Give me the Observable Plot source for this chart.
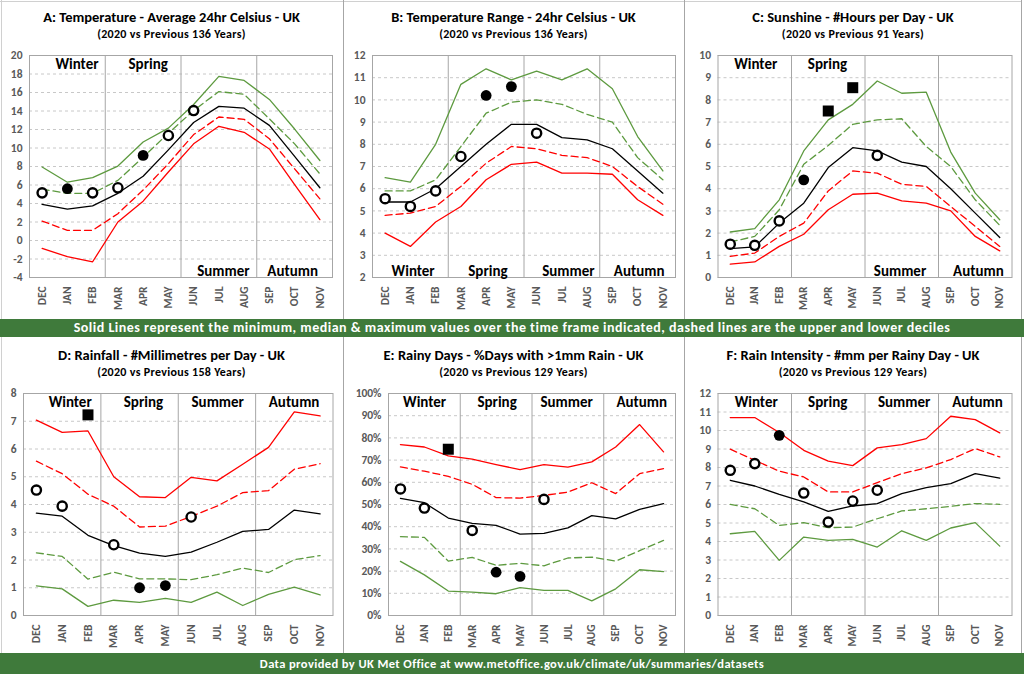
<!DOCTYPE html>
<html><head><meta charset="utf-8">
<script src="https://cdn.jsdelivr.net/npm/d3@7"></script>
<script src="https://cdn.jsdelivr.net/npm/@observablehq/plot@0.6"></script>
<style>
body{margin:0;background:#fff;font-family:Carlito,Lato,"Open Sans",sans-serif;}
#root{position:relative;width:1024px;height:674px;overflow:hidden;background:#fff;}
.panel{position:absolute;}
.title{position:absolute;left:0;right:0;text-align:center;font-weight:bold;color:#000;font-size:14.5px;line-height:18px;white-space:nowrap;}
.sub{position:absolute;left:0;right:0;text-align:center;font-weight:bold;color:#000;font-size:12px;line-height:14px;letter-spacing:0.3px;white-space:nowrap;}
.chart{position:absolute;left:0;}
.banner{position:absolute;left:0;width:1024px;background:#3f7a3b;color:#fff;font-weight:bold;text-align:center;white-space:nowrap;}
.vline{position:absolute;width:1px;background:#a6a6a6;}
.hline{position:absolute;height:1px;background:#d0d0d0;}
</style>
</head><body><div id="root"></div>
<script>
const months = ["DEC","JAN","FEB","MAR","APR","MAY","JUN","JUL","AUG","SEP","OCT","NOV"];
const seasonNames = ["Winter","Spring","Summer","Autumn"];

// A: Temperature
const tempMax = [7.95,6.3,6.8,8.05,10.65,12.15,14.7,17.75,17.3,15.25,12.05,8.65];
const tempP90 = [5.55,5.1,5.1,6.5,9.0,11.6,14.05,16.1,15.8,13.15,10.45,7.2];
const tempMed = [3.9,3.4,3.75,5.1,6.95,9.8,12.75,14.5,14.3,12.45,9.1,5.7];
const tempP10 = [2.1,1.1,1.1,2.9,5.45,8.3,11.45,13.35,13.1,11.0,7.75,4.5];
const tempMin = [-0.85,-1.75,-2.3,2.0,4.25,7.4,10.45,12.35,11.7,9.9,6.05,2.25];
const temp2020 = [5.15,5.6,5.15,5.7,9.2,11.35,14.05];
const temp2020Sym = ["o","c","o","o","c","o","o"];

// B: Temperature range
const rangeMax = [6.5,6.3,8.0,10.7,11.4,10.9,11.3,10.9,11.4,10.5,8.35,6.8];
const rangeP90 = [5.9,5.9,6.4,7.9,9.4,9.9,10.0,9.8,9.35,9.0,7.4,6.4];
const rangeMed = [5.4,5.4,6.0,7.0,8.0,8.9,8.9,8.3,8.2,7.8,6.8,5.8];
const rangeP10 = [4.8,4.9,5.2,6.1,7.15,7.9,7.8,7.5,7.4,7.0,6.1,5.3];
const rangeMin = [4.0,3.4,4.5,5.2,6.4,7.1,7.2,6.7,6.7,6.65,5.5,4.8];
const range2020 = [5.55,5.2,5.9,7.45,10.2,10.6,8.5];
const range2020Sym = ["o","o","o","o","c","c","o"];

// C: Sunshine
const sunMax = [2.05,2.2,3.5,5.7,7.1,7.8,8.85,8.3,8.35,5.65,3.8,2.6];
const sunP90 = [1.6,1.85,3.05,5.1,5.95,6.9,7.1,7.15,5.9,5.0,3.5,2.35];
const sunMed = [1.3,1.38,2.45,3.35,4.95,5.85,5.7,5.2,5.0,4.0,2.9,1.8];
const sunP10 = [0.95,1.1,1.85,2.45,3.9,4.8,4.7,4.2,4.1,3.2,2.3,1.4];
const sunMin = [0.6,0.7,1.4,1.95,3.05,3.75,3.8,3.45,3.35,3.0,1.85,1.2];
const sun2020 = [1.5,1.45,2.55,4.4,7.5,8.55,5.5];
const sun2020Sym = ["o","o","o","c","s","s","o"];

// D: Rainfall
const rainMax = [7.04,6.6,6.65,5.0,4.28,4.25,4.98,4.85,5.45,6.06,7.34,7.19];
const rainP90 = [5.56,5.11,4.37,3.94,3.19,3.22,3.57,3.94,4.43,4.5,5.27,5.47];
const rainMed = [3.69,3.58,2.89,2.52,2.25,2.13,2.28,2.64,3.03,3.1,3.8,3.66];
const rainP10 = [2.26,2.13,1.31,1.56,1.32,1.32,1.29,1.47,1.71,1.55,2.01,2.16];
const rainMin = [1.07,0.96,0.33,0.55,0.47,0.62,0.47,0.84,0.36,0.76,1.02,0.74];
const rain2020 = [4.52,3.94,7.23,2.55,1.0,1.08,3.55];
const rain2020Sym = ["o","o","s","o","c","c","o"];

// E: Rainy days (%)
const daysMax = [77.0,75.9,71.9,70.4,68.0,65.7,68.0,66.8,69.2,75.9,86.0,73.7];
const daysP90 = [66.9,65.0,62.7,59.1,53.1,52.9,54.1,55.6,59.8,54.9,63.9,66.2];
const daysMed = [52.8,50.8,43.9,41.5,40.6,36.7,37.0,39.5,45.0,43.5,47.8,50.4];
const daysP10 = [35.5,35.2,24.5,26.2,22.6,23.5,22.4,25.9,26.3,24.5,29.2,33.8];
const daysMin = [24.4,18.3,11.0,10.5,9.8,12.6,11.3,11.3,6.6,12.0,20.6,19.8];
const days2020 = [57.0,48.4,74.9,38.3,19.5,17.6,52.3];
const days2020Sym = ["o","o","s","o","c","c","o"];

// F: Rain intensity
const intMax = [10.7,10.7,9.89,8.93,8.34,8.1,9.06,9.24,9.56,10.77,10.59,9.87];
const intP90 = [8.99,8.39,7.8,7.49,6.68,6.68,7.18,7.67,7.98,8.43,9.02,8.57];
const intMed = [7.31,7.0,6.55,6.14,5.63,5.92,6.05,6.59,6.91,7.13,7.67,7.43];
const intP10 = [6.01,5.77,4.87,5.02,4.75,4.78,5.23,5.65,5.77,5.9,6.05,6.01];
const intMin = [4.42,4.55,2.98,4.24,4.06,4.11,3.7,4.58,4.06,4.73,5.02,3.75];
const int2020 = [7.85,8.21,9.74,6.62,5.05,6.19,6.77];
const int2020Sym = ["o","o","c","o","o","o","o"];

const GREEN = "#5d9a3f", RED = "#ff0000", BLACK = "#000000";
const FONT = "Carlito, Lato, 'Open Sans', sans-serif";

const root = document.getElementById("root");

function el(cls, css, html) {
  const d = document.createElement("div");
  d.className = cls;
  Object.assign(d.style, css);
  if (html != null) d.textContent = html;
  return d;
}

function makePanel(p) {
  const div = el("panel", {left: p.left + "px", top: p.top + "px", width: p.width + "px", height: p.height + "px"});
  div.appendChild(el("title", {top: p.titleTop + "px"}, p.title));
  div.appendChild(el("sub", {top: (p.titleTop + 19) + "px"}, p.subtitle));
  const hiColor = p.rain ? RED : GREEN, loColor = p.rain ? GREEN : RED;
  const series = [
    {v: p.max, color: hiColor, dash: null},
    {v: p.p90, color: hiColor, dash: "7,4"},
    {v: p.med, color: BLACK, dash: null},
    {v: p.p10, color: loColor, dash: "7,4"},
    {v: p.min, color: loColor, dash: null}
  ];
  const pts = p.y2020.map((v, i) => ({i, v, s: p.sym[i]}));
  const seasons = seasonNames.map((name, k) => ({name, x: p.seasonX[k], pos: p.seasonPos[k]}));
  const bounds = d3.range(1, 4).map(k => k * 3 - 0.5);
  const marks = [
    Plot.gridY(p.ticks, {stroke: "#c8c8c8", strokeOpacity: 1, strokeDasharray: "3,3"}),
    Plot.ruleX(bounds, {stroke: "#a6a6a6", strokeWidth: 1}),
    Plot.frame({stroke: "#a6a6a6", strokeWidth: 1}),
    ...series.map(s => Plot.line(s.v.map((v, i) => ({i, v})), {x: "i", y: "v", stroke: s.color, strokeWidth: 1.3, strokeDasharray: s.dash})),
    Plot.text(seasons.filter(d => d.pos === "top"), {x: "x", text: "name", frameAnchor: "top", lineAnchor: "top", dy: 3, fill: "#000", fontSize: 15, fontWeight: "bold"}),
    Plot.text(seasons.filter(d => d.pos === "bottom"), {x: "x", text: "name", frameAnchor: "bottom", lineAnchor: "bottom", dy: -2, fill: "#000", fontSize: 15, fontWeight: "bold"}),
    Plot.dot(pts.filter(d => d.s === "o"), {x: "i", y: "v", r: 4.6, fill: "#fff", stroke: "#000", strokeWidth: 2.4}),
    Plot.dot(pts.filter(d => d.s === "c"), {x: "i", y: "v", r: 5.4, fill: "#000", stroke: "none"}),
    Plot.dot(pts.filter(d => d.s === "s"), {x: "i", y: "v", r: 6.2, symbol: "square", fill: "#000", stroke: "none"})
  ];
  const chart = Plot.plot({
    width: p.width, height: p.svgHeight,
    marginLeft: p.ml, marginRight: p.mr, marginTop: 10, marginBottom: p.mb,
    style: {fontFamily: FONT, fontSize: "11.5px", fontWeight: "bold", color: "#595959", background: "transparent", overflow: "visible"},
    x: {domain: [-0.5, 11.5], ticks: d3.range(12), tickFormat: i => months[i], tickRotate: -90, tickSize: 0, tickPadding: 9, label: null},
    y: {domain: p.domain, ticks: p.ticks, tickFormat: p.fmt || (d => d), tickSize: 0, tickPadding: 7, label: null},
    marks
  });
  chart.style.position = "absolute";
  chart.style.left = "0px";
  chart.style.top = p.svgTop + "px";
  div.appendChild(chart);
  root.appendChild(div);
}

const topRow = {top: 0, height: 319, titleTop: 8, svgTop: 45, svgHeight: 274, mb: 42};
const botRow = {top: 337, height: 316, titleTop: 9, svgTop: 46, svgHeight: 270, mb: 38};

makePanel({...topRow, left: 0, width: 343, ml: 29, mr: 11,
  title: "A: Temperature - Average 24hr Celsius - UK", subtitle: "(2020 vs Previous 136 Years)",
  max: tempMax, p90: tempP90, med: tempMed, p10: tempP10, min: tempMin, y2020: temp2020, sym: temp2020Sym,
  domain: [-4, 20], ticks: d3.range(-4, 21, 2), seasonX: [1.38, 4.2, 7.18, 9.92], seasonPos: ["top","top","bottom","bottom"]});
makePanel({...topRow, left: 343, width: 341, ml: 29, mr: 9,
  title: "B: Temperature Range - 24hr Celsius - UK", subtitle: "(2020 vs Previous 136 Years)",
  max: rangeMax, p90: rangeP90, med: rangeMed, p10: rangeP10, min: rangeMin, y2020: range2020, sym: range2020Sym,
  domain: [2, 12], ticks: d3.range(2, 13, 1), seasonX: [1.11, 4.07, 7.26, 10.06], seasonPos: ["bottom","bottom","bottom","bottom"]});
makePanel({...topRow, left: 684, width: 338, ml: 33.5, mr: 10.5,
  title: "C: Sunshine - #Hours per Day - UK", subtitle: "(2020 vs Previous 91 Years)",
  max: sunMax, p90: sunP90, med: sunMed, p10: sunP10, min: sunMin, y2020: sun2020, sym: sun2020Sym,
  domain: [0, 10], ticks: d3.range(0, 11, 1), seasonX: [1.04, 3.97, 6.93, 10.13], seasonPos: ["top","top","bottom","bottom"]});
makePanel({...botRow, left: 0, width: 343, ml: 23, mr: 10.5, rain: true,
  title: "D: Rainfall - #Millimetres per Day - UK", subtitle: "(2020 vs Previous 158 Years)",
  max: rainMax, p90: rainP90, med: rainMed, p10: rainP10, min: rainMin, y2020: rain2020, sym: rain2020Sym,
  domain: [0, 8], ticks: d3.range(0, 9, 1), seasonX: [1.31, 4.15, 7.03, 9.99], seasonPos: ["top","top","top","top"]});
makePanel({...botRow, left: 343, width: 341, ml: 45, mr: 9, rain: true,
  title: "E: Rainy Days - %Days with >1mm Rain - UK", subtitle: "(2020 vs Previous 129 Years)",
  max: daysMax, p90: daysP90, med: daysMed, p10: daysP10, min: daysMin, y2020: days2020, sym: days2020Sym,
  domain: [0, 100], ticks: d3.range(0, 101, 10), fmt: d => d + "%", seasonX: [1.01, 4.04, 6.95, 10.09], seasonPos: ["top","top","top","top"]});
makePanel({...botRow, left: 684, width: 338, ml: 33.5, mr: 10.5, rain: true,
  title: "F: Rain Intensity - #mm per Rainy Day - UK", subtitle: "(2020 vs Previous 129 Years)",
  max: intMax, p90: intP90, med: intMed, p10: intP10, min: intMin, y2020: int2020, sym: int2020Sym,
  domain: [0, 12], ticks: d3.range(0, 13, 1), seasonX: [1.06, 3.98, 7.10, 10.09], seasonPos: ["top","top","top","top"]});

// frame lines
root.appendChild(el("hline", {left: "0px", top: "1px", width: "1022px"}));
root.appendChild(el("vline", {left: "1px", top: "0px", height: "653px", background: "#d0d0d0"}));
root.appendChild(el("vline", {left: "343px", top: "0px", height: "319px"}));
root.appendChild(el("vline", {left: "684px", top: "0px", height: "319px"}));
root.appendChild(el("vline", {left: "343px", top: "337px", height: "316px"}));
root.appendChild(el("vline", {left: "684px", top: "337px", height: "316px"}));
root.appendChild(el("vline", {left: "1021px", top: "0px", height: "653px"}));

root.appendChild(el("banner", {top: "319px", height: "18px", lineHeight: "18px", fontSize: "14px", letterSpacing: "0.5px"},
  "Solid Lines represent the minimum, median & maximum values over the time frame indicated, dashed lines are the upper and lower deciles"));
root.appendChild(el("banner", {top: "653px", height: "21px", lineHeight: "22px", fontSize: "12.5px", letterSpacing: "0.4px"},
  "Data provided by UK Met Office at www.metoffice.gov.uk/climate/uk/summaries/datasets"));
</script>
</body></html>
